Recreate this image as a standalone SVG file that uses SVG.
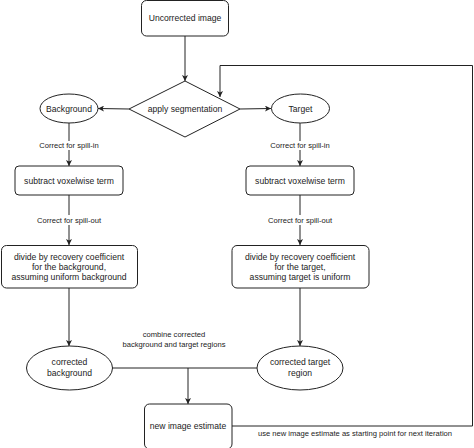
<svg xmlns="http://www.w3.org/2000/svg" width="474" height="448" viewBox="0 0 474 448">
<style>
.shape{fill:#fff;stroke:#222;stroke-width:1}
.t{font-family:"Liberation Sans",Arial,sans-serif;font-size:8.6px;fill:#222;text-anchor:middle;dominant-baseline:central}
.l{font-family:"Liberation Sans",Arial,sans-serif;font-size:7.6px;fill:#222;text-anchor:middle;dominant-baseline:central}
.c{fill:none;stroke:#222;stroke-width:1}
</style>
<defs>
<marker id="arr" viewBox="0 0 10 10" refX="10" refY="5" markerWidth="6" markerHeight="6" orient="auto" markerUnits="userSpaceOnUse">
<path d="M0,0 L10,5 L0,10 L2.5,5 Z" fill="#222"/>
</marker>
</defs>
<rect width="474" height="448" fill="#fff"/>
<g id="connectors">
<line class="c" x1="185" y1="36" x2="185" y2="81" marker-end="url(#arr)"/>
<line class="c" x1="129" y1="109" x2="98" y2="108.5" marker-end="url(#arr)"/>
<line class="c" x1="240" y1="109" x2="271" y2="108.5" marker-end="url(#arr)"/>
<line class="c" x1="69" y1="123" x2="69" y2="141"/>
<line class="c" x1="69" y1="150" x2="69" y2="166" marker-end="url(#arr)"/>
<line class="c" x1="300" y1="123" x2="300" y2="141"/>
<line class="c" x1="300" y1="150" x2="300" y2="166" marker-end="url(#arr)"/>
<line class="c" x1="69" y1="195" x2="69" y2="215"/>
<line class="c" x1="69" y1="225" x2="69" y2="245" marker-end="url(#arr)"/>
<line class="c" x1="300" y1="195" x2="300" y2="215"/>
<line class="c" x1="300" y1="225" x2="300" y2="245" marker-end="url(#arr)"/>
<line class="c" x1="69" y1="288" x2="69" y2="346" marker-end="url(#arr)"/>
<line class="c" x1="300" y1="288" x2="300" y2="346" marker-end="url(#arr)"/>
<line class="c" x1="112" y1="368" x2="257" y2="368"/>
<line class="c" x1="188" y1="368" x2="188" y2="404" marker-end="url(#arr)"/>
<polyline class="c" points="232,426 472.5,426 472.5,65.5 220,65.5 220,97" marker-end="url(#arr)"/>
<text class="l" x="69" y="145.5">Correct for spill-in</text>
<text class="l" x="300" y="145.5">Correct for spill-in</text>
<text class="l" x="69" y="220">Correct for spill-out</text>
<text class="l" x="300" y="220">Correct for spill-out</text>
<text class="l" x="174" y="334">combine corrected</text>
<text class="l" x="174" y="344">background and target regions</text>
<text class="l" x="355" y="433">use new image estimate as starting point for next iteration</text>
</g>
<g id="uncorrected">
<rect class="shape" x="141.5" y="0.5" width="87" height="35.5" rx="5"/>
<text class="t" x="185" y="18">Uncorrected image</text>
</g>
<g id="segmentation">
<polygon class="shape" points="185,81 240,109 185,137 129,109"/>
<text class="t" x="185" y="109">apply segmentation</text>
</g>
<g id="background">
<ellipse class="shape" cx="69" cy="108.5" rx="29" ry="14.5"/>
<text class="t" x="69" y="108.5">Background</text>
</g>
<g id="target">
<ellipse class="shape" cx="300.5" cy="108.5" rx="29" ry="14.5"/>
<text class="t" x="300.5" y="108.5">Target</text>
</g>
<g id="subtract-bg">
<rect class="shape" x="15" y="166" width="108" height="29" rx="4"/>
<text class="t" x="69" y="180.5">subtract voxelwise term</text>
</g>
<g id="subtract-target">
<rect class="shape" x="246" y="166" width="108" height="29" rx="4"/>
<text class="t" x="300" y="180.5">subtract voxelwise term</text>
</g>
<g id="divide-bg">
<rect class="shape" x="1.5" y="245.5" width="136" height="42.5" rx="5"/>
<text class="t" x="69" y="256.5">divide by recovery coefficient</text>
<text class="t" x="69" y="267">for the background,</text>
<text class="t" x="69" y="277">assuming uniform background</text>
</g>
<g id="divide-target">
<rect class="shape" x="232" y="245.5" width="137" height="42.5" rx="5"/>
<text class="t" x="300" y="256.5">divide by recovery coefficient</text>
<text class="t" x="300" y="267">for the target,</text>
<text class="t" x="300" y="277">assuming target is uniform</text>
</g>
<g id="corrected-bg">
<ellipse class="shape" cx="69.5" cy="368" rx="43" ry="22"/>
<text class="t" x="69.5" y="362">corrected</text>
<text class="t" x="69.5" y="373">background</text>
</g>
<g id="corrected-target">
<ellipse class="shape" cx="300" cy="368" rx="43" ry="22"/>
<text class="t" x="300" y="362">corrected target</text>
<text class="t" x="300" y="373">region</text>
</g>
<g id="new-estimate">
<rect class="shape" x="144.5" y="404" width="87.5" height="45" rx="5"/>
<text class="t" x="188" y="426">new image estimate</text>
</g>
</svg>
